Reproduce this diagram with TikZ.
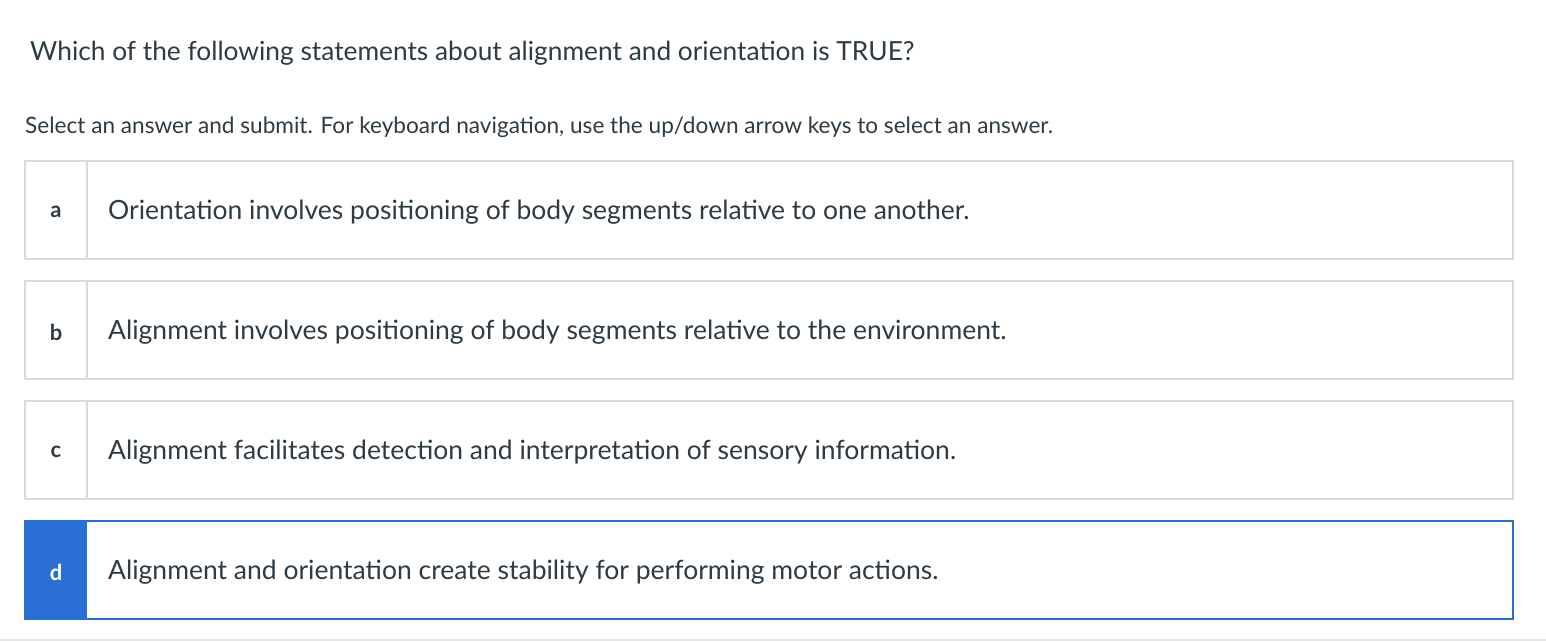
\documentclass[tikz,border=0pt]{standalone}
\usepackage{fontspec}
\setmainfont{Lato}
\definecolor{txt}{HTML}{2D3B45}
\definecolor{bd}{HTML}{D7D9DB}
\definecolor{sel}{HTML}{2A6FD6}
\tikzset{
  optbox/.style={draw=bd, line width=1.5pt},
  letter/.style={anchor=center, text=txt, font=\bfseries\fontsize{22}{26}\selectfont},
  opttext/.style={anchor=west, text=txt, font=\fontsize{26.5}{30}\selectfont, inner sep=0pt},
}
\begin{document}
\begin{tikzpicture}[x=1pt,y=-1pt]
\useasboundingbox (0,0) rectangle (1546,642);
\fill[white] (0,0) rectangle (1546,642);
\node[anchor=west, text=txt, inner sep=0pt, font=\fontsize{26.3}{30}\selectfont] (q) at (30,53) {Which of the following statements about alignment and orientation is TRUE?};
\node[anchor=west, text=txt, inner sep=0pt, font=\fontsize{22.6}{26}\selectfont] (s) at (25,127) {Select an answer and submit. For keyboard navigation, use the up/down arrow keys to select an answer.};
% a
\draw[optbox] (25,161) rectangle (1513,259);
\draw[bd, line width=1.5pt] (87,161) -- (87,259);
\node[letter] (la) at (56,212) {a};
\node[opttext] (ta) at (108,212) {Orientation involves positioning of body segments relative to one another.};
% b
\draw[optbox] (25,281) rectangle (1513,379);
\draw[bd, line width=1.5pt] (87,281) -- (87,379);
\node[letter] (lb) at (56,332) {b};
\node[opttext] (tb) at (108,332) {Alignment involves positioning of body segments relative to the environment.};
% c
\draw[optbox] (25,401) rectangle (1513,499);
\draw[bd, line width=1.5pt] (87,401) -- (87,499);
\node[letter] (lc) at (56,452) {c};
\node[opttext] (tc) at (108,452) {Alignment facilitates detection and interpretation of sensory information.};
% d
\fill[sel] (25,521) rectangle (87,619);
\draw[sel, line width=1.5pt] (25,521) rectangle (1513,619);
\node[letter, text=white] (ld) at (56,572) {d};
\node[opttext] (td) at (108,572) {Alignment and orientation create stability for performing motor actions.};
\draw[bd!60, line width=1.5pt] (0,640) -- (1546,640);
\end{tikzpicture}
\end{document}
